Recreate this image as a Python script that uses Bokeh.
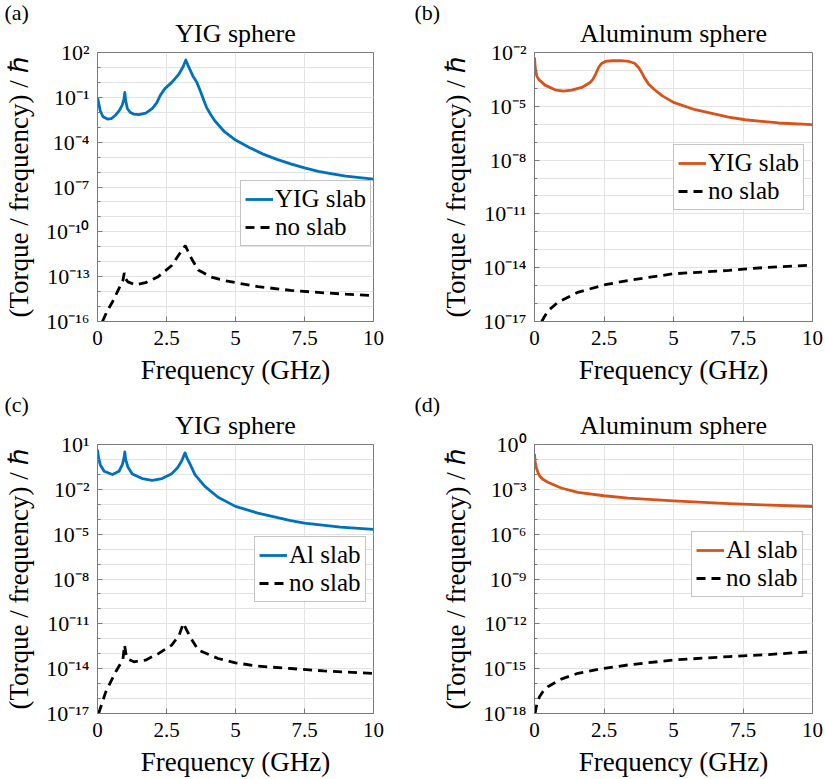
import numpy as np
from bokeh.plotting import figure
from bokeh.models import (Range1d, FixedTicker, CustomJSTickFormatter,
                          Legend, LegendItem, Title)
from bokeh.layouts import gridplot
from bokeh.embed import file_html
from bokeh.resources import INLINE

FONT = "Liberation Serif"
BLUE = "#0072BD"
ORANGE = "#D95319"
FRAME = "#7a7a7a"
GRID = "#e3e3e3"

freq_ticks = [0, 2.5, 5, 7.5, 10]
y_label = "(Torque / frequency) / \u210f"
x_label = "Frequency (GHz)"

# Torque/frequency values are stored as base-10 exponents (decades).
# (a) YIG sphere, YIG slab
a_slab_f = [0, 0.1, 0.2, 0.36, 0.5, 0.65, 0.8, 0.9, 0.96, 0.99, 1.02, 1.08, 1.18,
            1.3, 1.5, 1.75, 2.0, 2.15, 2.28, 2.45, 2.7, 2.95, 3.1, 3.2, 3.3, 3.45,
            3.6, 3.75, 3.85, 3.95, 4.1, 4.25, 4.6, 5.0, 5.5, 6.0, 6.5, 7.0, 7.5,
            8.0, 8.5, 9.0, 9.5, 10]
a_slab_dec = [-1.0, -1.9, -2.3, -2.45, -2.42, -2.2, -1.85, -1.5, -1.1, -0.67, -1.2,
              -1.75, -2.0, -2.12, -2.16, -2.05, -1.72, -1.35, -0.85, -0.4, 0.02,
              0.55, 1.05, 1.5, 1.05, 0.45, 0.0, -0.7, -1.2, -1.67, -2.15, -2.57,
              -3.3, -3.86, -4.35, -4.8, -5.15, -5.45, -5.72, -5.95, -6.12, -6.27,
              -6.38, -6.47]
# (a) YIG sphere, no slab
a_free_f = [0.18, 0.35, 0.54, 0.75, 0.92, 0.97, 1.02, 1.1, 1.38, 1.74, 2.2, 2.69,
            2.96, 3.1, 3.18, 3.28, 3.41, 3.65, 4.13, 4.61, 5.0, 5.81, 7.0, 8.2,
            9.0, 10]
a_free_dec = [-16.0, -15.3, -14.7, -13.9, -13.25, -12.75, -13.15, -13.35, -13.55,
              -13.4, -13.0, -12.25, -11.5, -11.15, -10.92, -11.3, -11.8, -12.55,
              -13.03, -13.26, -13.4, -13.66, -13.92, -14.08, -14.17, -14.26]

# (b) Aluminum sphere, YIG slab
b_slab_f = [0, 0.03, 0.08, 0.15, 0.38, 0.74, 1.04, 1.34, 1.7, 2.0, 2.1, 2.2, 2.3,
            2.4, 2.55, 2.8, 3.1, 3.4, 3.6, 3.75, 3.85, 3.95, 4.1, 4.3, 4.6, 5.0,
            5.78, 6.98, 7.58, 8.78, 10]
b_slab_dec = [-2.28, -2.9, -3.3, -3.5, -3.82, -4.08, -4.15, -4.1, -3.95, -3.67,
              -3.5, -3.2, -2.85, -2.63, -2.5, -2.46, -2.45, -2.5, -2.6, -2.85,
              -3.1, -3.4, -3.75, -4.05, -4.42, -4.78, -5.19, -5.6, -5.75, -5.93,
              -6.02]
# (b) Aluminum sphere, no slab
b_free_f = [0.26, 0.35, 0.5, 0.86, 1.58, 2.54, 3.38, 5.0, 7.0, 8.2, 10]
b_free_dec = [-17.0, -16.75, -16.38, -15.91, -15.36, -14.95, -14.71, -14.34,
              -14.15, -14.0, -13.85]

# (c) YIG sphere, Al slab
c_slab_f = [0, 0.04, 0.1, 0.24, 0.54, 0.78, 0.9, 0.96, 0.99, 1.02, 1.1, 1.26,
            1.62, 1.98, 2.34, 2.69, 2.9, 3.05, 3.17, 3.25, 3.35, 3.53, 3.89,
            4.37, 5.0, 5.81, 7.0, 7.5, 8.8, 10]
c_slab_dec = [0.66, 0.1, -0.35, -0.79, -1.01, -0.79, -0.35, 0.1, 0.51, 0.0, -0.5,
              -0.97, -1.28, -1.4, -1.28, -0.95, -0.55, -0.1, 0.44, 0.05, -0.3,
              -1.01, -1.8, -2.53, -3.14, -3.59, -4.1, -4.26, -4.53, -4.68]
# (c) YIG sphere, no slab
c_free_f = [0.04, 0.3, 0.66, 0.92, 0.98, 1.03, 1.1, 1.32, 1.74, 2.22, 2.69, 2.96,
            3.11, 3.2, 3.35, 3.65, 4.37, 5.0, 5.81, 7.0, 8.2, 10]
c_free_dec = [-17.0, -15.55, -14.2, -13.4, -12.42, -13.0, -13.35, -13.54, -13.43,
              -12.98, -12.42, -11.75, -10.97, -11.3, -11.86, -12.76, -13.32,
              -13.61, -13.83, -13.99, -14.15, -14.32]

# (d) Aluminum sphere, Al slab
d_slab_f = [0, 0.02, 0.06, 0.12, 0.18, 0.3, 0.48, 0.96, 1.56, 2.5, 3.37, 5.0,
            7.0, 8.2, 10]
d_slab_dec = [-0.63, -1.1, -1.52, -1.85, -2.09, -2.33, -2.53, -2.91, -3.2, -3.43,
              -3.59, -3.77, -3.95, -4.04, -4.15]
# (d) Aluminum sphere, no slab
d_free_f = [0.02, 0.08, 0.18, 0.3, 0.48, 0.96, 1.56, 2.5, 3.37, 5.0, 7.0, 8.2, 10]
d_free_dec = [-18.0, -17.4, -16.88, -16.55, -16.21, -15.7, -15.31, -14.98,
              -14.75, -14.42, -14.19, -14.08, -13.86]

SUP = CustomJSTickFormatter(code="""
const sup = {"-": "\u207b", "0": "\u2070", "1": "\u00b9", "2": "\u00b2", "3": "\u00b3",
             "4": "\u2074", "5": "\u2075", "6": "\u2076", "7": "\u2077", "8": "\u2078",
             "9": "\u2079"};
const e = Math.round(Math.log10(tick));
return "10" + String(e).split("").map(c => sup[c]).join("");
""")
PLAIN = CustomJSTickFormatter(code="return String(tick);")


def panel(tag, title, slab_name, color, sf, sd, ff, fd, dec_lo, dec_hi,
          width, height, borders, legend_xy):
    left, right, top, bottom = borders
    p = figure(width=width, height=height, y_axis_type="log",
               x_range=Range1d(0, 10), y_range=Range1d(10.0 ** dec_lo, 10.0 ** dec_hi),
               output_backend="svg", toolbar_location=None,
               min_border_left=left, min_border_right=right,
               min_border_top=top, min_border_bottom=bottom,
               background_fill_color="white", border_fill_color="white")

    # panel title nearest the frame; the panel tag is pulled down beside it
    # (negative standoff) so it takes no extra height above the title
    p.add_layout(Title(text=title, align="center", text_font=FONT,
                       text_font_size="26px", text_font_style="normal",
                       text_color="black", standoff=10), "above")
    p.add_layout(Title(text=tag, align="left", offset=-left + 2, text_font=FONT,
                       text_font_size="22px", text_font_style="normal",
                       text_color="black", standoff=-26), "above")

    p.outline_line_color = FRAME
    p.outline_line_width = 1
    p.outline_line_alpha = 1

    majors = [10.0 ** k for k in range(dec_lo, dec_hi + 1, 3)]
    minors = [10.0 ** k for k in range(dec_lo, dec_hi + 1)]
    p.yaxis.ticker = FixedTicker(ticks=majors, minor_ticks=minors)
    p.yaxis.formatter = SUP
    p.xaxis.ticker = FixedTicker(ticks=freq_ticks)
    p.xaxis.formatter = PLAIN

    for ax in (p.xaxis[0], p.yaxis[0]):
        ax.axis_line_color = FRAME
        ax.major_tick_line_color = FRAME
        ax.minor_tick_line_color = FRAME
        ax.major_tick_in = 5
        ax.major_tick_out = 0
        ax.minor_tick_in = 3
        ax.minor_tick_out = 0
        ax.major_label_text_font = FONT
        ax.major_label_text_color = "black"
        ax.axis_label_text_font = FONT
        ax.axis_label_text_font_size = "27px"
        ax.axis_label_text_font_style = "normal"
        ax.axis_label_text_color = "black"
    p.yaxis.major_label_text_font_size = "22px"
    p.xaxis.major_label_text_font_size = "21px"
    p.yaxis.axis_label = y_label
    p.xaxis.axis_label = x_label
    p.yaxis.major_label_standoff = 8
    p.yaxis.axis_label_standoff = 9
    p.xaxis.major_label_standoff = 9
    p.xaxis.axis_label_standoff = 7

    p.xgrid.grid_line_color = GRID
    p.ygrid.grid_line_color = GRID
    p.ygrid.minor_grid_line_color = GRID

    r_slab = p.line(sf, 10.0 ** np.array(sd), line_color=color, line_width=2.8,
                    line_join="round")
    r_free = p.line(ff, 10.0 ** np.array(fd), line_color="black", line_width=2.8,
                    line_dash="9 6")

    legend = Legend(items=[LegendItem(label=slab_name, renderers=[r_slab]),
                           LegendItem(label="no slab", renderers=[r_free])],
                    location=legend_xy)
    legend.label_text_font = FONT
    legend.label_text_font_size = "25px"
    legend.label_text_color = "black"
    legend.glyph_width = 28
    legend.glyph_height = 26
    legend.label_height = 26
    legend.label_standoff = 2
    legend.spacing = 0
    legend.padding = 4
    legend.margin = 0
    legend.border_line_color = "#8a8a8a"
    legend.border_line_width = 1
    legend.background_fill_color = "white"
    legend.background_fill_alpha = 1
    p.add_layout(legend)
    return p


pa = panel("(a)", "YIG sphere", "YIG slab", BLUE, a_slab_f, a_slab_dec, a_free_f,
           a_free_dec, -16, 2, 412, 390, (95, 39, 52, 69), (143, 75))
pb = panel("(b)", "Aluminum sphere", "YIG slab", ORANGE, b_slab_f, b_slab_dec,
           b_free_f, b_free_dec, -17, -2, 413, 390, (122, 13, 52, 69), (139, 111))
pc = panel("(c)", "YIG sphere", "Al slab", BLUE, c_slab_f, c_slab_dec, c_free_f,
           c_free_dec, -17, 1, 412, 389, (95, 39, 54, 66), (157, 111))
pd = panel("(d)", "Aluminum sphere", "Al slab", ORANGE, d_slab_f, d_slab_dec,
           d_free_f, d_free_dec, -18, 0, 413, 389, (122, 13, 54, 66), (157, 116))

grid = gridplot([[pa, pb], [pc, pd]], toolbar_location=None)
open("out.html", "w").write(file_html(grid, INLINE))
